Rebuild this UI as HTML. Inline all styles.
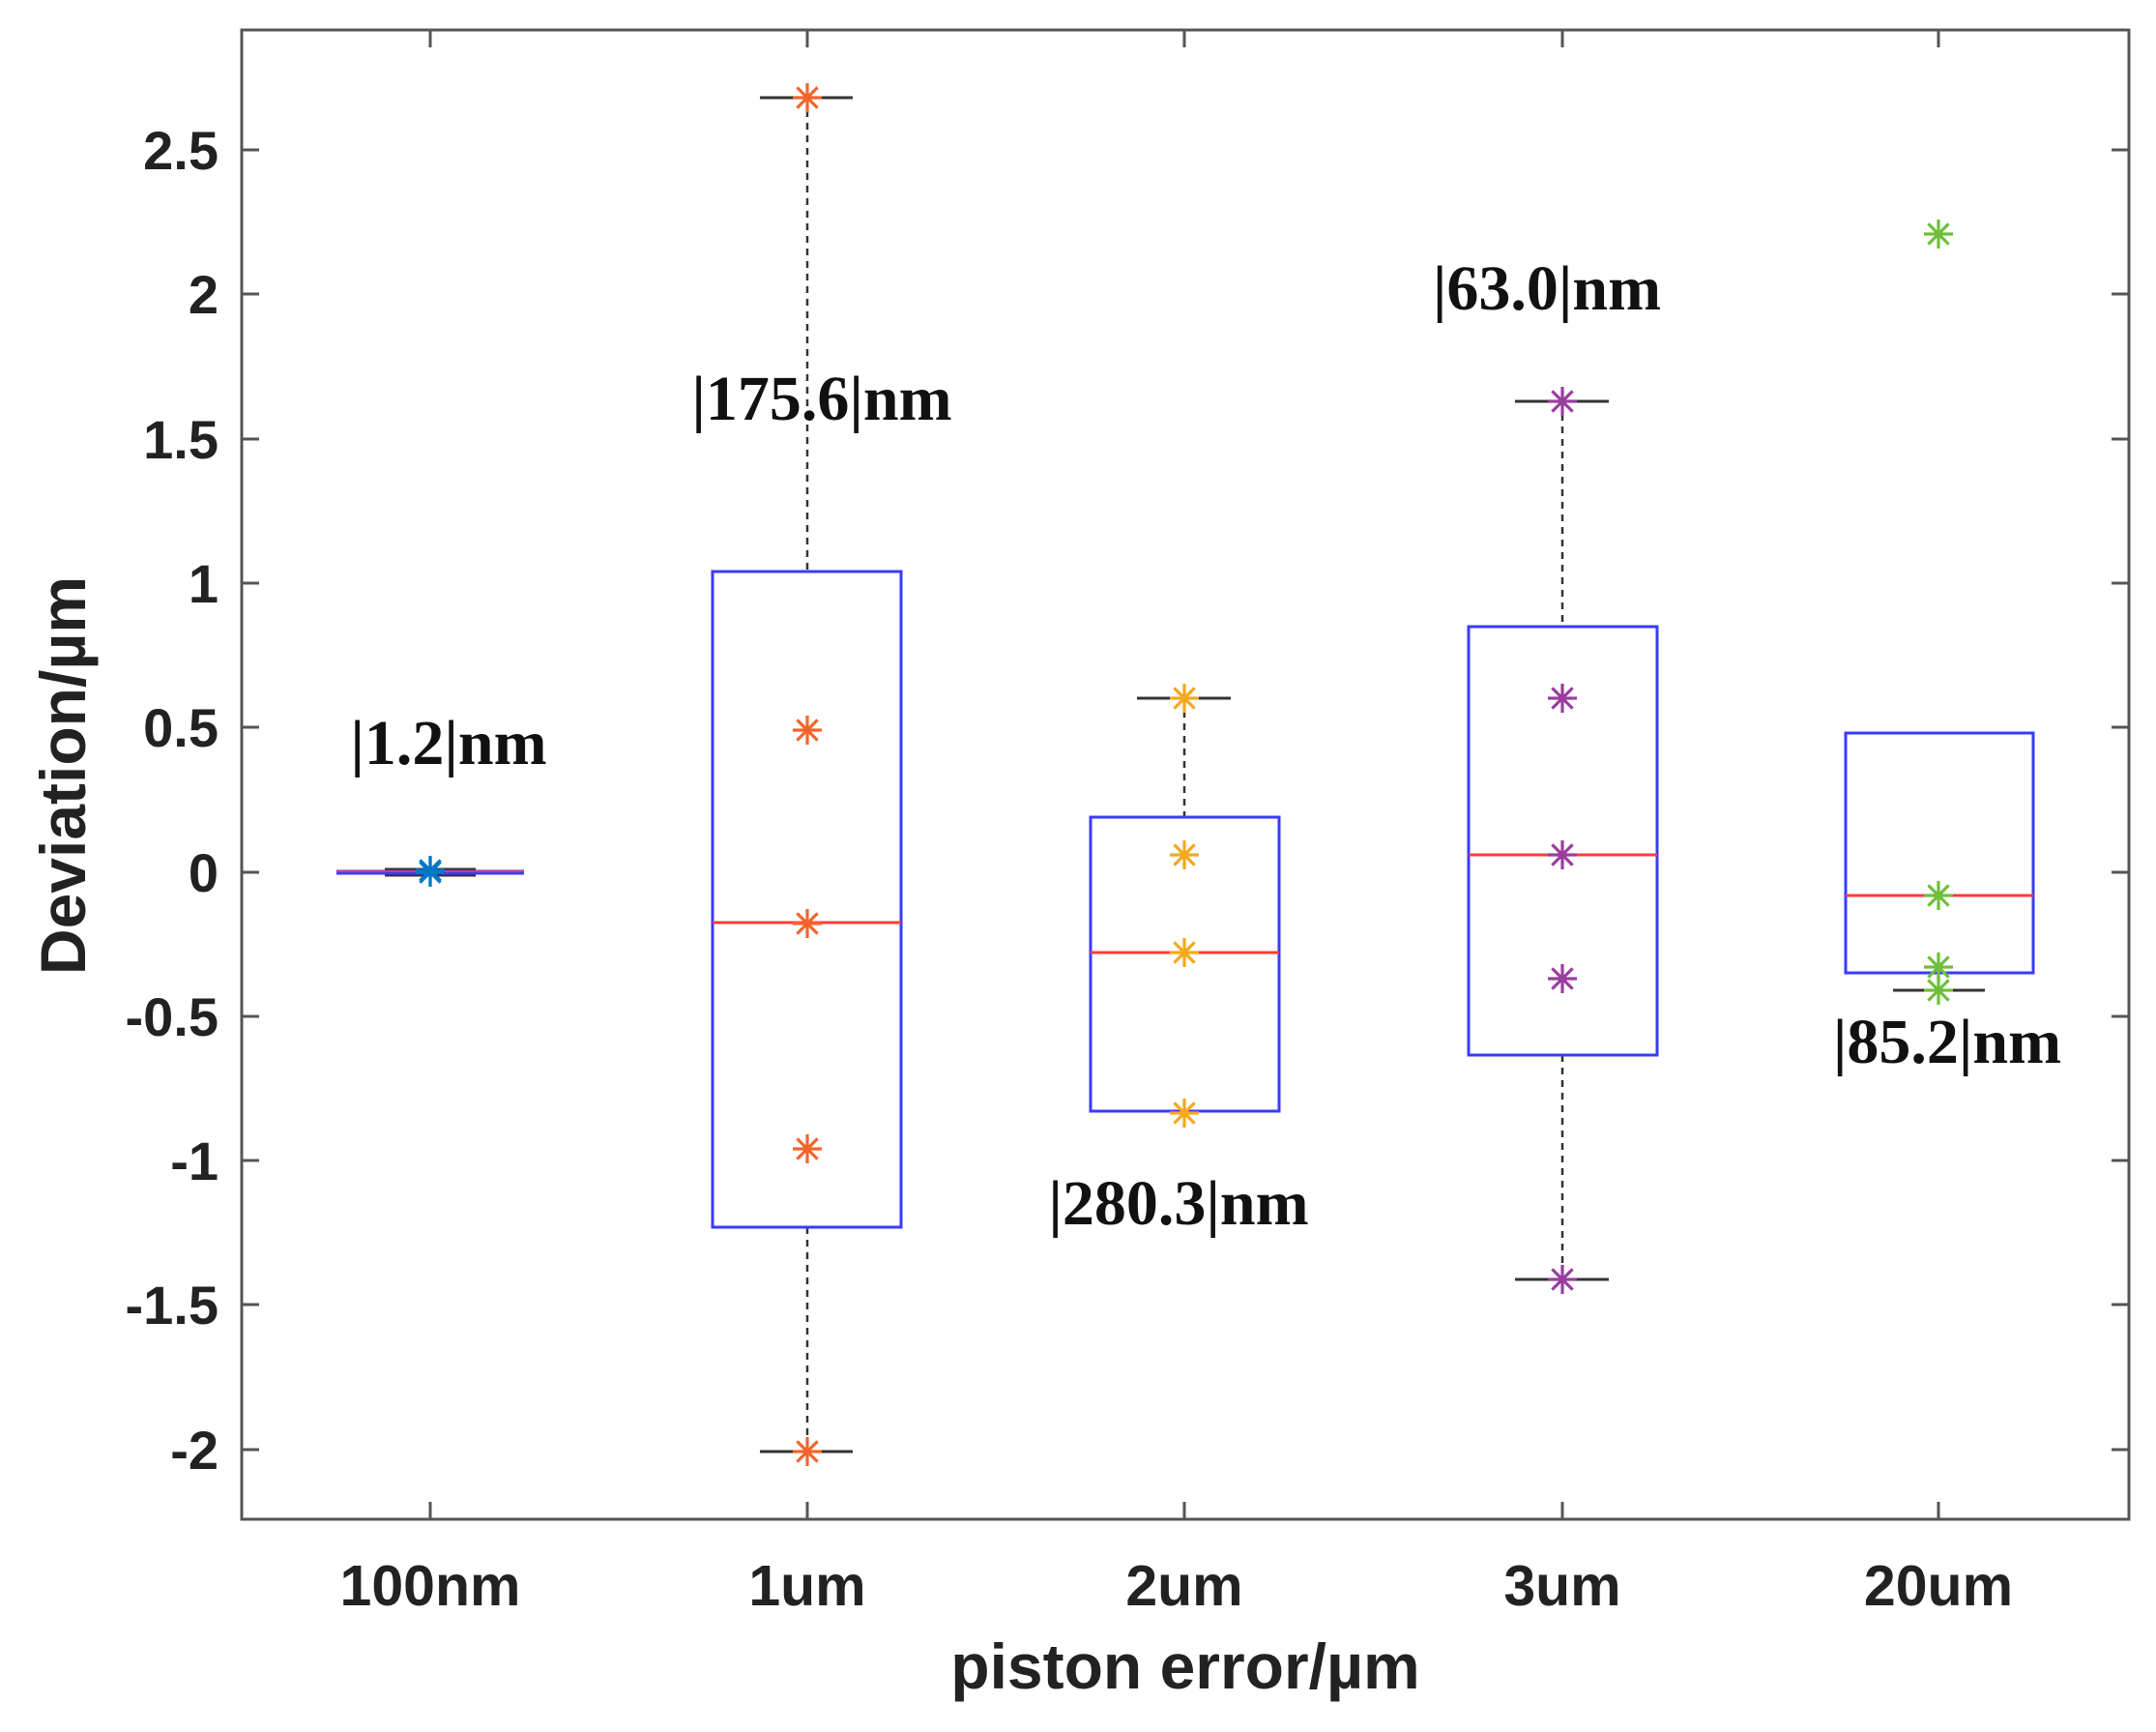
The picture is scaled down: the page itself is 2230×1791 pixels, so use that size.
<!DOCTYPE html>
<html><head><meta charset="utf-8"><style>body{margin:0;background:#fff}</style></head>
<body>
<svg width="2230" height="1786" viewBox="0 0 2230 1786" xmlns="http://www.w3.org/2000/svg">
<defs>
<g id="st"><path d="M-15 0H15M0 -15V15M-10.6 -10.6L10.6 10.6M-10.6 10.6L10.6 -10.6" stroke-width="3.2" fill="none"/></g>
</defs>
<rect x="250" y="31" width="1952" height="1540" fill="#fff" stroke="#555" stroke-width="3"/>
<g stroke="#555" stroke-width="3">
<path d="M250 155H268M250 304H268M250 454H268M250 603H268M250 752H268M250 902H268M250 1051H268M250 1200H268M250 1349H268M250 1499H268"/>
<path d="M2202 155H2184M2202 304H2184M2202 454H2184M2202 603H2184M2202 752H2184M2202 902H2184M2202 1051H2184M2202 1200H2184M2202 1349H2184M2202 1499H2184"/>
<path d="M445 1571V1553M835 1571V1553M1225 1571V1553M1616 1571V1553M2005 1571V1553"/>
<path d="M445 31V49M835 31V49M1225 31V49M1616 31V49M2005 31V49"/>
</g>
<g font-family="Liberation Sans, sans-serif" font-weight="bold" font-size="56" fill="#222" text-anchor="end">
<text x="226" y="175">2.5</text><text x="226" y="324">2</text><text x="226" y="474">1.5</text><text x="226" y="623">1</text><text x="226" y="772">0.5</text><text x="226" y="922">0</text><text x="226" y="1071">-0.5</text><text x="226" y="1220">-1</text><text x="226" y="1369">-1.5</text><text x="226" y="1519">-2</text>
</g>
<g font-family="Liberation Sans, sans-serif" font-weight="bold" font-size="59" fill="#222" text-anchor="middle">
<text x="445" y="1660">100nm</text><text x="835" y="1660">1um</text><text x="1225" y="1660">2um</text><text x="1616" y="1660">3um</text><text x="2005" y="1660">20um</text>
<text x="1226" y="1746" font-size="66">piston error/µm</text>
<text transform="translate(88 802) rotate(-90)" font-size="66">Deviation/µm</text>
</g>
<g stroke="#333" stroke-width="2.5" stroke-dasharray="7 6" fill="none">
<path d="M835 101V591M835 1269V1501"/>
<path d="M1225 722V845"/>
<path d="M1616 415V648M1616 1091V1323"/>
</g>
<g stroke="#333" stroke-width="3">
<path d="M786 101H882M786 1501H882M1176 722H1273M1567 415H1664M1567 1323H1664M1958 1024H2053"/>
<path d="M398 902H492" stroke-width="9"/>
</g>
<g stroke="#3a3aff" stroke-width="3" fill="none">
<rect x="737" y="591" width="195" height="678"/>
<rect x="1128" y="845" width="195" height="304"/>
<rect x="1519" y="648" width="195" height="443"/>
<rect x="1909" y="758" width="194" height="248"/>
</g>
<g stroke="#ff3b3b" stroke-width="3">
<path d="M737 954H932M1128 985H1323M1519 884H1714M1909 926H2103"/>
</g>
<path d="M348 902H542" stroke="#3a3aff" stroke-width="5"/>
<path d="M348 901H542" stroke="#e0307a" stroke-width="2"/>
<g stroke="#0078c8"><use href="#st" x="445" y="902"/><use href="#st" x="445" y="900"/></g>
<g stroke="#f2652a">
<use href="#st" x="835" y="101"/><use href="#st" x="835" y="755"/><use href="#st" x="835" y="955"/><use href="#st" x="835" y="1188"/><use href="#st" x="835" y="1501"/>
</g>
<g stroke="#f5a81c">
<use href="#st" x="1225" y="722"/><use href="#st" x="1225" y="884"/><use href="#st" x="1225" y="985"/><use href="#st" x="1225" y="1151"/>
</g>
<g stroke="#9a3d9f">
<use href="#st" x="1616" y="415"/><use href="#st" x="1616" y="722"/><use href="#st" x="1616" y="884"/><use href="#st" x="1616" y="1012"/><use href="#st" x="1616" y="1323"/>
</g>
<g stroke="#6fbf3a">
<use href="#st" x="2005" y="242"/><use href="#st" x="2005" y="926"/><use href="#st" x="2005" y="1000"/><use href="#st" x="2005" y="1024"/>
</g>
<g font-family="Liberation Serif, serif" font-weight="bold" font-size="66" fill="#111" text-anchor="middle">
<text x="464" y="790">|1.2|nm</text>
<text x="850" y="434">|175.6|nm</text>
<text x="1600" y="320">|63.0|nm</text>
<text x="1219" y="1266">|280.3|nm</text>
<text x="2014" y="1099">|85.2|nm</text>
</g>
</svg>
</body></html>
